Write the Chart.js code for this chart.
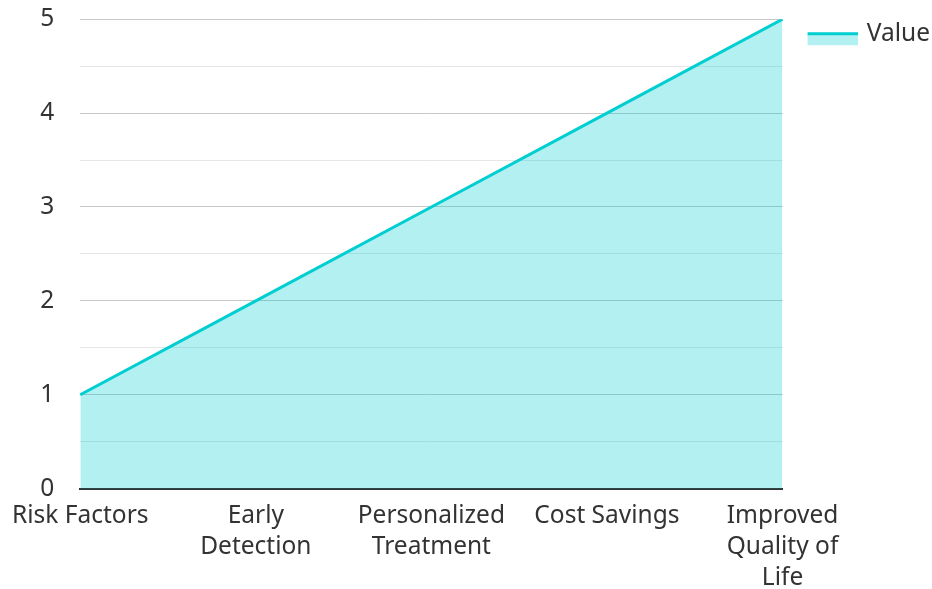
<!DOCTYPE html>
<html lang="en">
<head>
  <meta charset="UTF-8">
  <title>Value by Stage</title>
  <script src="https://cdn.jsdelivr.net/npm/chart.js"></script>
  <style>
    html, body { margin: 0; padding: 0; background: #fff; }
    #wrap { width: 932px; height: 589px; }
  </style>
</head>
<body>
<div id="wrap"><canvas id="myChart" width="932" height="589"></canvas></div>
<script>
  const categories = [
    'Risk Factors',
    ['Early', 'Detection'],
    ['Personalized', 'Treatment'],
    'Cost Savings',
    ['Improved', 'Quality of', 'Life']
  ];
  const values = [1, 2, 3, 4, 5];
  const seriesName = 'Value';

  const lineColor = 'rgb(0, 206, 209)';
  const fillColor = 'rgba(0, 206, 209, 0.3)';

  // legend swatch: light fill with a thick line on top, shifted right
  // inside a wider transparent image so it sits where the reference has it
  const swatch = document.createElement('canvas');
  swatch.width = 78;
  swatch.height = 26;
  const sctx = swatch.getContext('2d');
  sctx.fillStyle = fillColor;
  sctx.fillRect(28, 13, 50, 11);
  sctx.fillStyle = lineColor;
  sctx.fillRect(28, 11, 50, 3);

  Chart.defaults.font.family = '"Noto Sans", sans-serif';
  Chart.defaults.color = '#333';

  const ctx = document.getElementById('myChart').getContext('2d');
  new Chart(ctx, {
    type: 'line',
    data: {
      labels: categories,
      datasets: [{
        label: seriesName,
        data: values,
        borderColor: lineColor,
        backgroundColor: fillColor,
        borderWidth: 3,
        fill: 'origin',
        pointRadius: 0,
        tension: 0
      }]
    },
    options: {
      responsive: false,
      animation: false,
      layout: { padding: { top: 4, left: 0, right: -8, bottom: -17 } },
      scales: {
        x: {
          grid: { display: false, drawTicks: false },
          border: { display: true, color: '#333', width: 2 },
          ticks: {
            font: { size: 24.5, lineHeight: 1.27 },
            padding: 12,
            maxRotation: 0,
            autoSkip: false
          }
        },
        y: {
          min: 0,
          max: 5,
          border: { display: false },
          grid: {
            drawTicks: true,
            tickLength: 21.5,
            tickColor: 'transparent',
            color: c => Number.isInteger(c.tick.value) ? '#c8c8c8' : '#e6e6e6',
            lineWidth: 1
          },
          ticks: {
            stepSize: 0.5,
            padding: 4.5,
            font: { size: 24.5 },
            callback: v => Number.isInteger(v) ? v : ''
          }
        }
      },
      plugins: {
        legend: {
          position: 'right',
          align: 'start',
          title: { display: true, text: '', font: { size: 10, lineHeight: 1 }, padding: 4 },
          labels: {
            usePointStyle: true,
            pointStyle: swatch,
            pointStyleWidth: 72,
            boxHeight: 24.5,
            font: { size: 24.5 },
            padding: 0
          }
        },
        tooltip: { enabled: false }
      }
    }
  });
</script>
</body>
</html>
